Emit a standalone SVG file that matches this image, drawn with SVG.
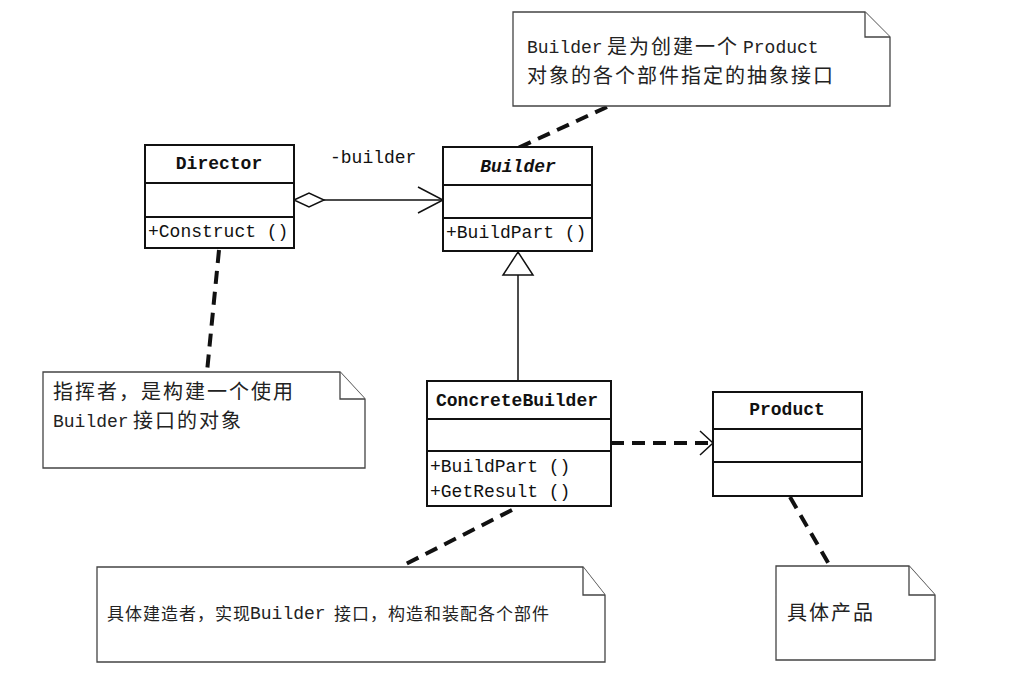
<svg xmlns="http://www.w3.org/2000/svg" width="1024" height="676" viewBox="0 0 1024 676">
<style>
.cls{fill:#fff;stroke:#111;stroke-width:2}
.div{stroke:#111;stroke-width:2}
.note{fill:#fff;stroke:#444;stroke-width:1.3}
.t{font-family:"Liberation Mono","Noto Sans CJK SC",monospace;font-size:18px;fill:#111}
.b{font-weight:bold}
.cj{font-family:"Noto Sans CJK SC",sans-serif;font-size:20px;letter-spacing:2px;fill:#222}
.lat{font-family:"Liberation Mono",monospace;font-size:18px;fill:#222}
.dash{fill:none;stroke:#111;stroke-width:4;stroke-dasharray:13 8}
.ln{fill:none;stroke:#111;stroke-width:1.5}
</style>
<rect width="1024" height="676" fill="#fff"/>
<g id="connectors">
<path class="dash" d="M607,107 L518,148"/>
<path class="dash" d="M219,250 L207,372"/>
<path class="dash" d="M512,510 L400,567"/>
<path class="dash" d="M790,497 L830,566"/>
<path class="dash" d="M611,443 L708,443"/>
<path class="ln" d="M700,431 L713,443 L700,455"/>
<path class="ln" d="M324,200 L443,200"/>
<path class="ln" fill="#fff" d="M294,200 L309,193 L324,200 L309,207 Z"/>
<path class="ln" d="M418,187 L443,200 L418,213"/>
<path class="ln" d="M518,275 L518,381"/>
<path class="ln" fill="#fff" d="M518,252 L533,275 L503,275 Z"/>
<text class="t" x="330" y="163">-builder</text>
</g>
<g id="Director">
<rect class="cls" x="145" y="145" width="149" height="103"/>
<line class="div" x1="145" y1="183" x2="294" y2="183"/>
<line class="div" x1="145" y1="217" x2="294" y2="217"/>
<text class="t b" x="219" y="169" text-anchor="middle">Director</text>
<text class="t" x="148" y="237">+Construct ()</text>
</g>
<g id="Builder">
<rect class="cls" x="443" y="147" width="149" height="104"/>
<line class="div" x1="443" y1="185" x2="592" y2="185"/>
<line class="div" x1="443" y1="218" x2="592" y2="218"/>
<text class="t b" x="518" y="172" text-anchor="middle" font-style="italic">Builder</text>
<text class="t" x="446" y="238">+BuildPart ()</text>
</g>
<g id="ConcreteBuilder">
<rect class="cls" x="427" y="381" width="184" height="125"/>
<line class="div" x1="427" y1="419" x2="611" y2="419"/>
<line class="div" x1="427" y1="451" x2="611" y2="451"/>
<text class="t b" x="436" y="406">ConcreteBuilder</text>
<text class="t" x="430" y="472">+BuildPart ()</text>
<text class="t" x="430" y="497">+GetResult ()</text>
</g>
<g id="Product">
<rect class="cls" x="713" y="392" width="149" height="104"/>
<line class="div" x1="713" y1="429" x2="862" y2="429"/>
<line class="div" x1="713" y1="462" x2="862" y2="462"/>
<text class="t b" x="787" y="415" text-anchor="middle">Product</text>
</g>
<g id="note-builder">
<path class="note" d="M513,12 L865,12 L890,37 L890,106 L513,106 Z"/>
<path class="note" d="M865,12 L865,37 L890,37"/>
<text class="lat" x="527" y="53">Builder</text>
<text class="cj" x="607" y="54">是为创建一个</text>
<text class="lat" x="743" y="53">Product</text>
<text class="cj" x="527" y="83">对象的各个部件指定的抽象接口</text>
</g>
<g id="note-director">
<path class="note" d="M43,372 L340,372 L365,399 L365,468 L43,468 Z"/>
<path class="note" d="M340,372 L340,399 L365,399"/>
<text class="cj" x="53" y="399">指挥者，是构建一个使用</text>
<text class="lat" x="53" y="427">Builder</text>
<text class="cj" x="133" y="428">接口的对象</text>
</g>
<g id="note-concrete">
<path class="note" d="M97,567 L583,567 L605,595 L605,662 L97,662 Z"/>
<path class="note" d="M583,567 L583,595 L605,595"/>
<text class="cj" x="107" y="620" style="font-size:17px;letter-spacing:1px">具体建造者，实现</text>
<text class="lat" x="250" y="619">Builder</text>
<text class="cj" x="334" y="620" style="font-size:17px;letter-spacing:1px">接口，构造和装配各个部件</text>
</g>
<g id="note-product">
<path class="note" d="M776,566 L909,566 L935,595 L935,660 L776,660 Z"/>
<path class="note" d="M909,566 L909,595 L935,595"/>
<text class="cj" x="787" y="620">具体产品</text>
</g>
</svg>
